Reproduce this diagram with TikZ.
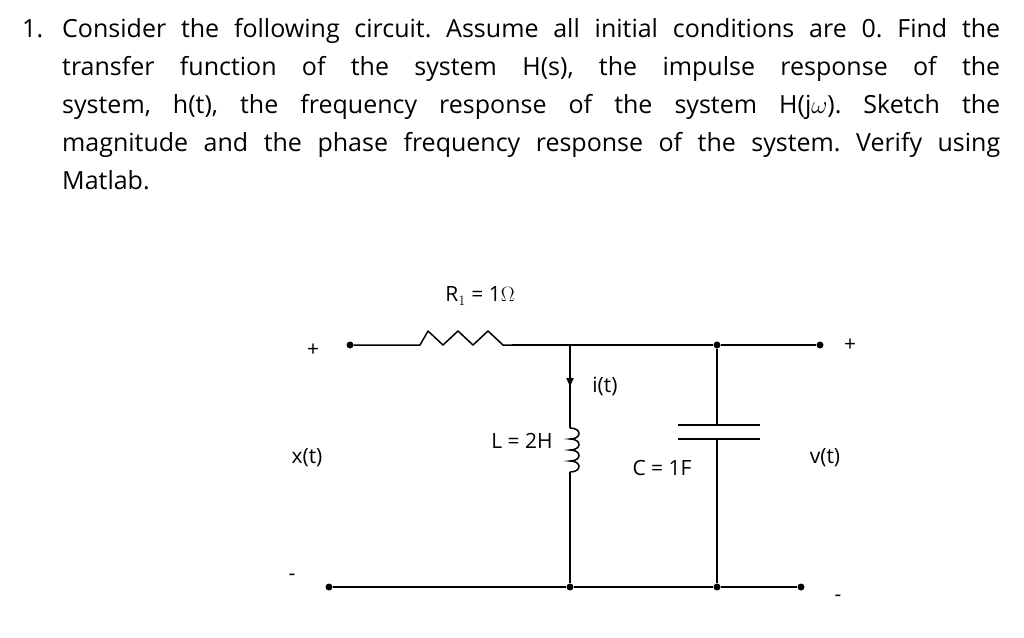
\documentclass[tikz,border=0pt]{standalone}
\usepackage{fontspec}
\setmainfont{Open Sans}
\usetikzlibrary{arrows.meta}
\begin{document}
\begin{tikzpicture}[x=1pt,y=-1pt,
  wire/.style={line width=1.5pt},
  term/.style={circle,fill,inner sep=0pt,minimum size=7pt},
  lbl/.style={font=\fontsize{21}{24}\selectfont,inner sep=0pt}]
\useasboundingbox (0,0) rectangle (1024,637);
\node[anchor=north west,inner sep=0pt,font=\fontsize{25}{38}\selectfont] (txt) at (22,18)
 {\frenchspacing\makebox[40pt][l]{1.}\parbox[t]{938pt}{\frenchspacing Consider the following circuit. Assume all initial conditions are 0. Find the\linebreak transfer function of the system H(s), the impulse response of the\linebreak system, h(t), the frequency response of the system H(j$\omega$). Sketch the\linebreak magnitude and the phase frequency response of the system. Verify using\linebreak Matlab.}};
% nodes
\node[term] (a) at (350,345) {};
\node[term] (b) at (820,345) {};
\node[term] (c) at (717,345) {};
\node[term] (d) at (329,587) {};
\node[term] (e) at (570,587) {};
\node[term] (f) at (717,587) {};
\node[term] (g) at (801,587) {};
\coordinate (j) at (570,345);
\coordinate (r1) at (420,345);
\coordinate (r2) at (512,345);
\coordinate (l1) at (570,428);
\coordinate (l2) at (570,472);
\coordinate (c1) at (717,425);
\coordinate (c2) at (717,439);
% wires
\draw[wire,line join=round] (a) -- (r1) -- ++(8,-14) -- ++(15,14) -- ++(15,-14) -- ++(15,14) -- ++(15,-14) -- ++(15,14) -- (r2);
\draw[wire] (r2) -- (j) -- (c) -- (b);
\draw[wire] (d) -- (e) -- (f) -- (g);
\draw[wire] (j) -- (l1);
\draw[wire,-{Latex[length=10pt,width=8pt]}] (j) -- (570,388);
\draw[wire] (l1) .. controls (582,428) and (582,439) .. (570,439)
  .. controls (582,439) and (582,450) .. (570,450)
  .. controls (582,450) and (582,461) .. (570,461)
  .. controls (582,461) and (582,472) .. (l2);
\draw[wire] (l2) -- (e);
\draw[wire] (c) -- (c1); \draw[wire] (c2) -- (f);
\draw[wire] (678,425) -- (760,425);
\draw[wire] (678,439) -- (760,439);
% labels
\node[lbl] (lr) at (480,296) {R$_1$ = 1$\Omega$};
\node[lbl] (li) at (605,386) {i(t)};
\node[lbl] (ll) at (522,441) {L = 2H};
\node[lbl] (lc) at (662,468) {C = 1F};
\node[lbl] (lx) at (307,458) {x(t)};
\node[lbl] (lv) at (825,458) {v(t)};
\node[lbl] (p1) at (313,350) {+};
\node[lbl] (p2) at (850,345) {+};
\node[lbl] (m1) at (292,577) {-};
\node[lbl] (m2) at (838,598) {-};
\end{tikzpicture}
\end{document}
